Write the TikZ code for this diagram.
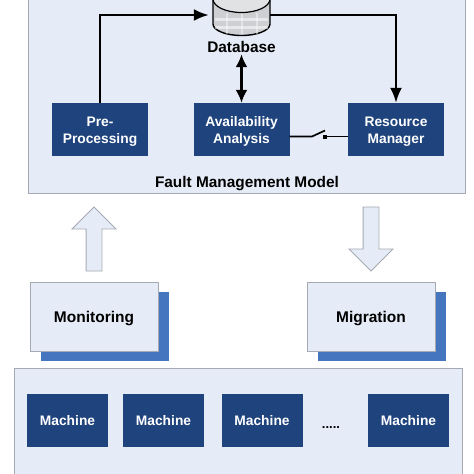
\documentclass[tikz,border=0pt]{standalone}
\usepackage{fontspec}
\setmainfont{Liberation Sans}
\usepackage{tikz}
\usetikzlibrary{arrows.meta,positioning,shapes.arrows,shapes.geometric}
\definecolor{panelsoft}{RGB}{230,236,247}
\definecolor{panelline}{RGB}{165,170,178}
\definecolor{boxblue}{RGB}{31,67,125}
\definecolor{shadowblue}{RGB}{70,117,192}
\definecolor{dbgray}{RGB}{205,207,210}
\begin{document}
\begin{tikzpicture}[
x=1pt, y=-1pt,
panel/.style={draw=panelline, line width=0.9pt, fill=panelsoft, inner sep=0pt},
box/.style={fill=boxblue, text=white, minimum width=96pt, minimum height=53pt, inner sep=0pt, align=center, text height=27pt, text depth=0pt, font=\bfseries\fontsize{13.8}{17}\selectfont},
machine/.style={box, minimum width=81pt, minimum height=53.5pt, text height=10.4pt, text depth=0pt},
service/.style={draw=panelline, line width=0.9pt, fill=panelsoft, minimum width=128pt, minimum height=69pt, inner sep=0pt, text height=11pt, text depth=0pt, font=\bfseries\fontsize{15.5}{18}\selectfont},
backing/.style={fill=shadowblue, minimum width=128pt, minimum height=69pt, inner sep=0pt},
label/.style={inner sep=0pt, text height=11pt, text depth=0pt, font=\bfseries\fontsize{15.4}{18}\selectfont},
bigarrow/.style={draw=panelline, line width=0.9pt, fill=panelsoft, shape=single arrow, inner xsep=7.5pt, inner ysep=0pt, minimum height=64pt, single arrow head extend=14pt, single arrow tip angle=90},
arrow/.style={-{Latex[length=15pt,width=12pt]}, line width=2.4pt},
biarrow/.style={{Latex[length=13pt,width=12pt]}-{Latex[length=13pt,width=12pt]}, line width=2.4pt},
wire/.style={line width=1.7pt}
]
\useasboundingbox (0,0) rectangle (474,474);
\fill[white] (0,0) rectangle (474,474);
\clip (0,0) rectangle (474,474);
% panels
\node[panel, minimum width=437.5pt, minimum height=213pt] (model) at (246.75,86.5) {};
\node[panel, minimum width=448pt, minimum height=120pt] (pool) at (238,428) {};
% database
\path[draw=black, line width=1.4pt, fill=dbgray] (213,-6) -- (213,24) arc[start angle=180, end angle=360, x radius=28.5pt, y radius=11.5pt] -- (270,-6) -- cycle;
\foreach \gy in {18,26}
  \fill[white, opacity=0.5] (215,\gy) rectangle (268,\gy+3);
\foreach \gx in {226,241,256}
  \fill[white, opacity=0.4] (\gx,13) rectangle (\gx+2,34);
\draw[black, line width=1.2pt, fill=dbgray!60] (241.5,-1) ellipse[x radius=28.5pt, y radius=13.5pt];
\node[minimum width=57pt, minimum height=36pt, inner sep=0pt] (db) at (241.5,15) {};
\node[label] (dblabel) at (241.5,47) {Database};
% blue boxes
\node[box] (pre) at (100,129.5) {Pre-\\Processing};
\node[box] (avail) at (241.5,129.5) {Availability\\Analysis};
\node[box] (res) at (396,129.5) {Resource\\Manager};
\node[label] (title) at (247,181.7) {Fault Management Model};
% connectors
\draw[arrow, shorten >=4pt] (pre.north) |- (db.west);
\draw[arrow] (db.east) -| (res.north);
\draw[biarrow, shorten <=1.5pt] (dblabel.south) -- (avail.north);
% switch
\coordinate (swa) at (312,136.5);
\coordinate (swb) at (325,136.5);
\draw[wire] (avail.east |- swa) -- (swa) -- (325,130.5);
\draw[wire] (swb) -- (res.west |- swb);
\fill (322.5,134.5) rectangle (327,139);
% big arrows
\node[bigarrow, shape border rotate=90] (up) at (94,243) {};
\node[bigarrow, shape border rotate=270] (down) at (371,235) {};
% services
\node[backing] (monback) at (105,326.5) {};
\node[service] (mon) at (94,316.5) {Monitoring};
\node[backing] (migback) at (382,326.5) {};
\node[service] (mig) at (371,316.5) {Migration};
% machines
\foreach \n/\px in {ma/67.5,mb/163.5,mc/262,md/408.5}
  \node[machine] (\n) at (\px,420.5) {Machine};
\node[inner sep=0pt, font=\bfseries\fontsize{13}{15}\selectfont] (dots) at (331,427.5) {.....};
\end{tikzpicture}
\end{document}
